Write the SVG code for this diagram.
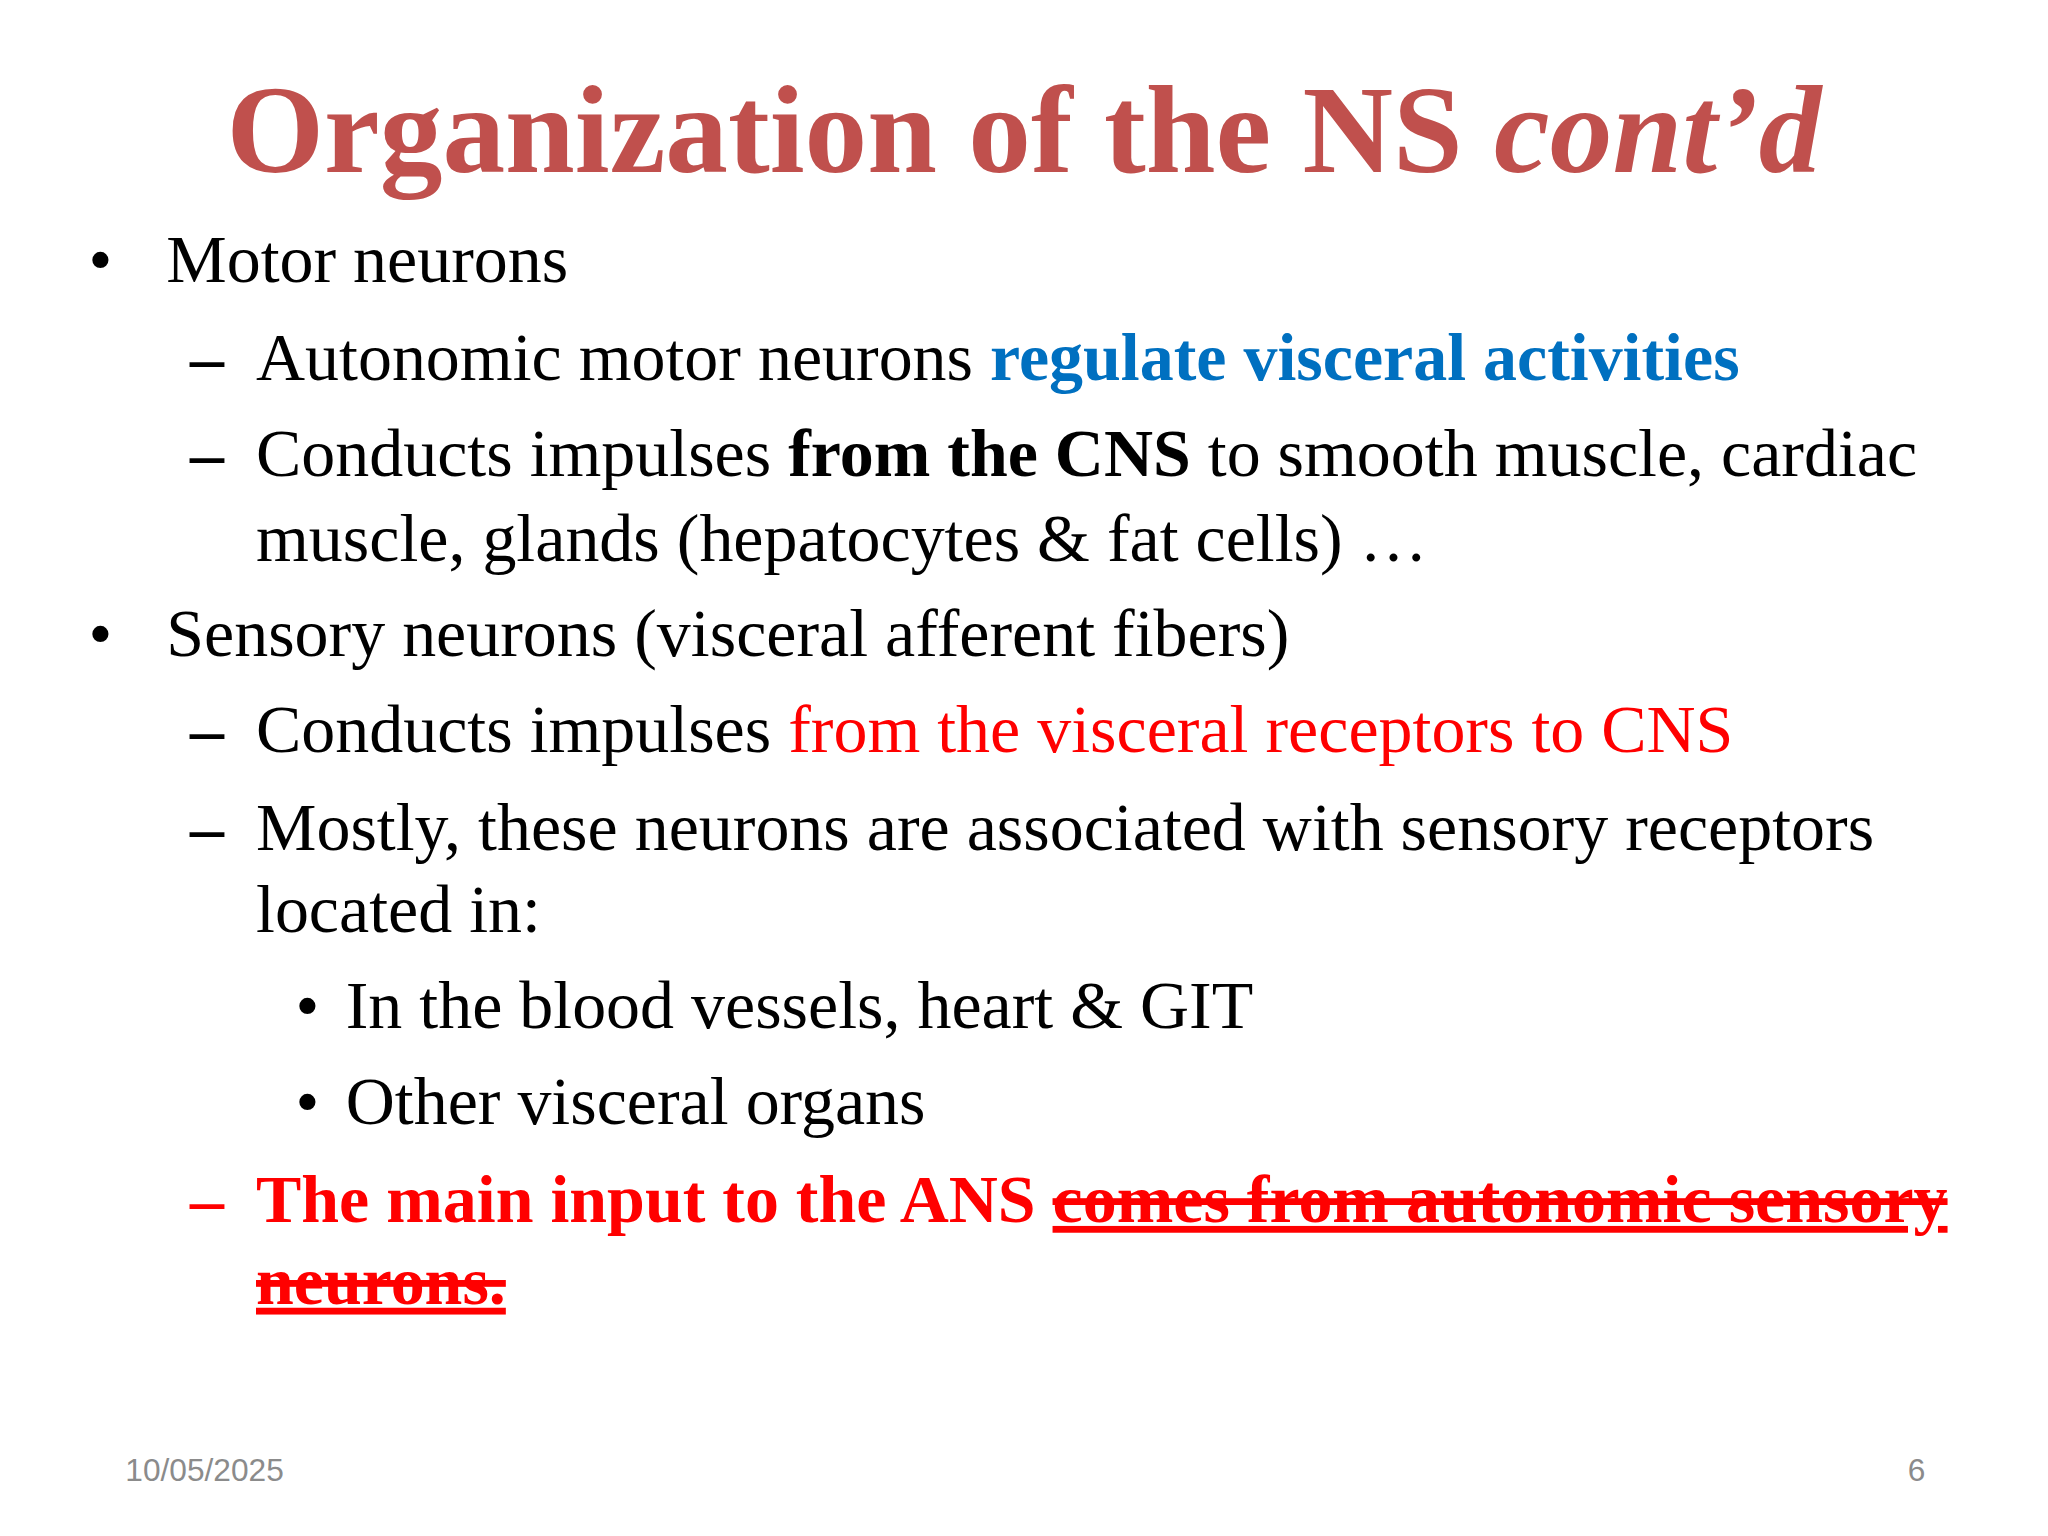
<svg xmlns="http://www.w3.org/2000/svg" width="2048" height="1536" viewBox="0 0 2048 1536">
<style>
.t{font-family:"Liberation Serif",serif;font-size:51.5px;fill:#000}
.b{font-weight:bold}
.f{font-family:"Liberation Sans",sans-serif;font-size:24px;fill:#8b8b8b}
</style>
<rect width="2048" height="1536" fill="#fff"/>
<g transform="scale(1.3196)">
<g id="title"><text x="776" y="130" text-anchor="middle" font-family="Liberation Serif,serif" font-size="95" font-weight="bold" fill="#C0504D">Organization of the NS <tspan font-style="italic">cont’d</tspan></text></g>
<g id="body">
<text class="t" x="67" y="214">•</text><text class="t" x="126" y="214">Motor neurons</text>
<text class="t b" x="144" y="288">–</text><text class="t" x="194" y="288">Autonomic motor neurons <tspan class="b" fill="#0070C0">regulate visceral activities</tspan></text>
<text class="t b" x="144" y="361">–</text><text class="t" x="194" y="361">Conducts impulses <tspan class="b">from the CNS</tspan> to smooth muscle, cardiac</text>
<text class="t" x="194" y="425">muscle, glands (hepatocytes &amp; fat cells) …</text>
<text class="t" x="67" y="497">•</text><text class="t" x="126" y="497">Sensory neurons (visceral afferent fibers)</text>
<text class="t b" x="144" y="570">–</text><text class="t" x="194" y="570">Conducts impulses <tspan fill="#FF0000">from the visceral receptors to CNS</tspan></text>
<text class="t b" x="144" y="644">–</text><text class="t" x="194" y="644">Mostly, these neurons are associated with sensory receptors</text>
<text class="t" x="194" y="706">located in:</text>
<text class="t" x="224" y="779">•</text><text class="t" x="262" y="779">In the blood vessels, heart &amp; GIT</text>
<text class="t" x="224" y="852">•</text><text class="t" x="262" y="852">Other visceral organs</text>
<text class="t b" x="144" y="926" style="fill:#FF0000">–</text><text class="t b" x="194" y="926" style="fill:#FF0000">The main input to the ANS <tspan text-decoration="underline line-through">comes from autonomic sensory</tspan></text>
<text class="t b" x="194" y="988" style="fill:#FF0000" text-decoration="underline line-through">neurons.</text>
</g>
<g id="footer">
<text class="f" x="95" y="1122">10/05/2025</text>
<text class="f" x="1459" y="1122" text-anchor="end">6</text>
</g>
</g>
</svg>
